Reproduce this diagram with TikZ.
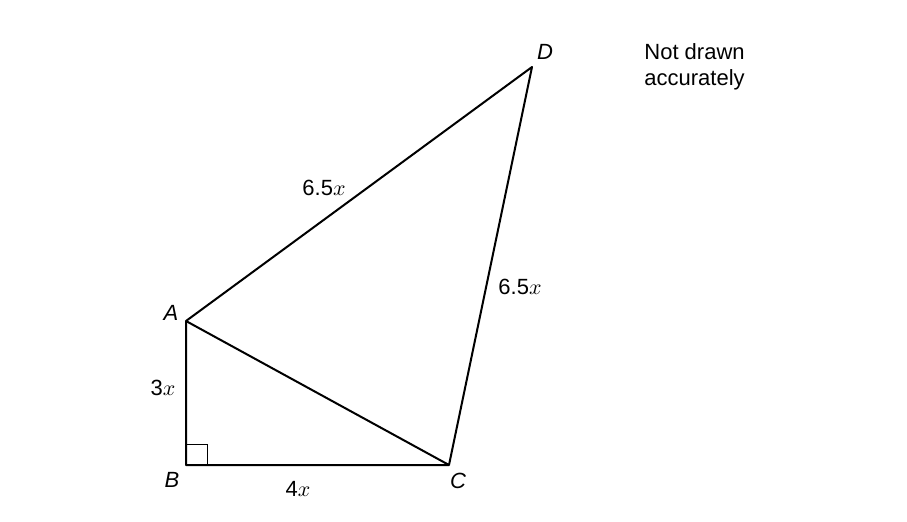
\documentclass[tikz,border=0pt]{standalone}
\usepackage{fontspec}
\setmainfont{Liberation Sans}
\newcommand{\varx}{$x$}
\usetikzlibrary{positioning,calc}

\begin{document}
\begin{tikzpicture}[x=0.5pt,y=-0.5pt,font=\fontsize{11}{13}\selectfont]
        \useasboundingbox (0,0) rectangle (907,521);
        % vertices
        \coordinate (A) at (186,321); \coordinate (B) at (186,465);
        \coordinate (C) at (449,465); \coordinate (D) at (532,67);

        % right angle at B
        \draw [line width=0.5pt] ($(B)+(0,-21)$) -- ++(21,0) -- ++(0,21);
        % triangles
        \draw [line width=1pt, line join=round] (A) -- (B) -- (C) -- (D) -- cycle;
        \draw [line width=1pt] (A) -- (C);

        \node (lA) at (171,313) {\itshape A}; \node (lB) at (172,480) {\itshape B};
        \node (lC) at (458,481) {\itshape C}; \node (lD) at (545,52) {\itshape D};
        \node (lAD) at (324,188) {6.5\varx}; \node (lCD) at (520,287) {6.5\varx};
        \node (lAB) at (163,388) {3\varx}; \node (lBC) at (298,489) {4\varx};
        \node [anchor=north west, align=left, inner sep=0pt] (note) at (644,43) {Not drawn\\accurately};
\end{tikzpicture}
\end{document}
